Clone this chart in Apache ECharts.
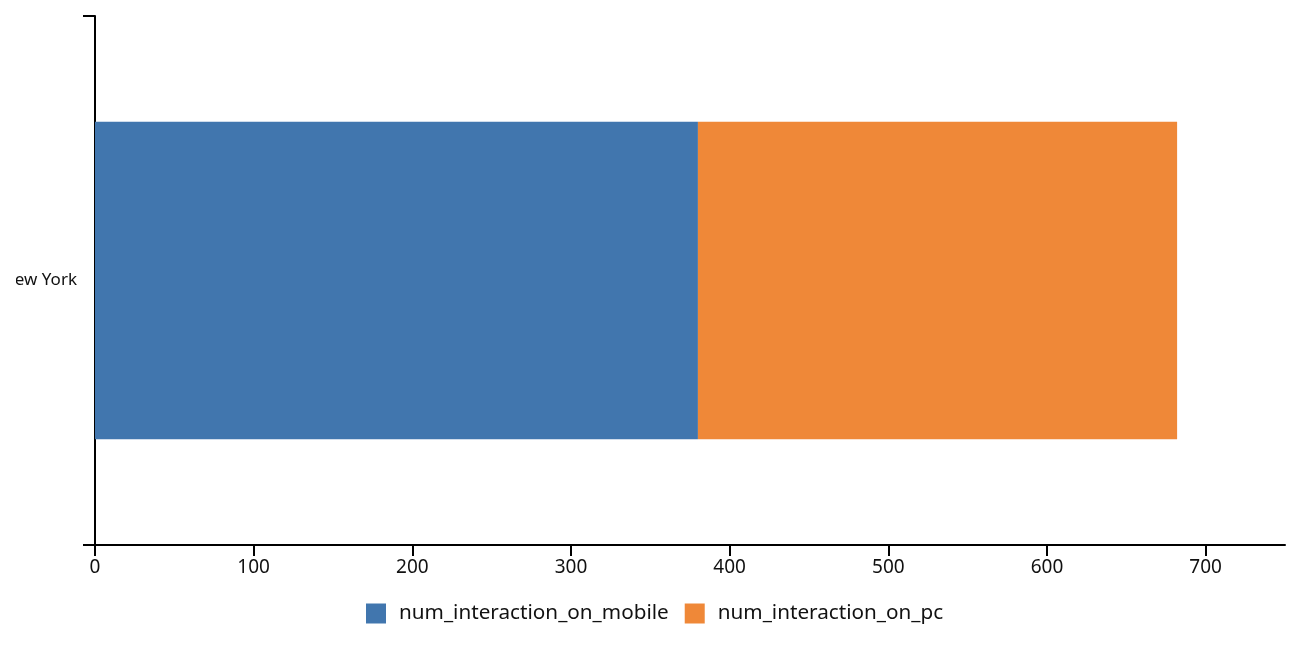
<!DOCTYPE html>
<html>
<head>
<meta charset="utf-8">
<script src="https://cdn.jsdelivr.net/npm/echarts@6/dist/echarts.min.js"></script>
<style>
html, body { margin: 0; padding: 0; overflow: hidden; background: #fff; }
#chart { position: absolute; left: -15px; top: 0; width: 1315px; height: 648px; }
</style>
</head>
<body>
<div id="chart"></div>
<script>
var categories = ['New York'];
var mobileValues = [380];
var pcValues = [302];
var seriesNames = ['num_interaction_on_mobile', 'num_interaction_on_pc'];

var FONT = '"Noto Sans", sans-serif';

function drawChart(){
    var chart = echarts.init(document.getElementById('chart'));
    var option = {
        animation: false,
        textStyle: { fontFamily: FONT },
        grid: { left: 110, right: 15, top: 16, bottom: 103, containLabel: false },
        // the label in the original is cut off on its left side
        graphic: [{
            type: 'rect',
            left: 0,
            top: 255,
            z: 100,
            shape: { width: 31, height: 50 },
            style: { fill: '#fff' }
        }],
        legend: {
            bottom: 19,
            left: 376,
            itemWidth: 20,
            itemHeight: 20,
            itemGap: 16,
            icon: 'rect',
            textStyle: { fontSize: 20.7, color: '#111', fontFamily: FONT, padding: [0, 0, 0, 8] },
            data: seriesNames
        },
        xAxis: {
            type: 'value',
            min: 0,
            max: 750,
            interval: 100,
            splitLine: { show: false },
            axisLine: { show: true, lineStyle: { color: '#000', width: 2 } },
            axisTick: { show: true, length: 11, lineStyle: { color: '#000', width: 2 } },
            axisLabel: { color: '#111', fontSize: 19, margin: 13, showMaxLabel: false, fontFamily: FONT }
        },
        yAxis: {
            type: 'category',
            data: categories,
            axisLine: { show: true, lineStyle: { color: '#000', width: 2 } },
            axisTick: { show: true, length: 12, alignWithLabel: false, lineStyle: { color: '#000', width: 2 } },
            axisLabel: { color: '#111', fontSize: 17, margin: 18, fontFamily: FONT }
        },
        series: [
            {
                name: seriesNames[0],
                type: 'bar',
                stack: 'total',
                barWidth: '60%',
                itemStyle: { color: '#4176ae' },
                data: mobileValues
            },
            {
                name: seriesNames[1],
                type: 'bar',
                stack: 'total',
                barWidth: '60%',
                itemStyle: { color: '#ef8838' },
                data: pcValues
            }
        ]
    };
    chart.setOption(option);
}

drawChart();
</script>
</body>
</html>
